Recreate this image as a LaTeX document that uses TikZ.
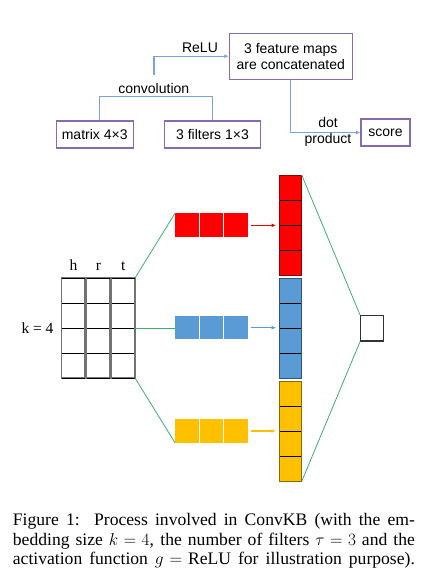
\documentclass[tikz,border=0pt]{standalone}
\usepackage{fontspec}
\setmainfont{Liberation Serif}
\newfontfamily\arialf{Liberation Sans}
\usetikzlibrary{arrows.meta}
\definecolor{boxpurple}{HTML}{8A6AAE}
\definecolor{connblue}{HTML}{78A4D8}
\definecolor{fred}{HTML}{FF0000}
\definecolor{fblue}{HTML}{5B9BD5}
\definecolor{fyellow}{HTML}{FFC000}
\definecolor{lgreen}{HTML}{3DB070}
\begin{document}
\begin{tikzpicture}[x=1pt,y=-1pt,
  procbox/.style={draw=boxpurple,line width=1.1pt,inner sep=0pt,font=\arialf\fontsize{14}{16}\selectfont,align=center},
  conn/.style={draw=connblue,line width=1.1pt},
  connarrow/.style={conn,-{Latex[length=4.5pt,width=4pt]}},
  lbl/.style={font=\arialf\fontsize{14}{16}\selectfont,inner sep=0pt},
  serlbl/.style={font=\fontsize{15.5}{18}\selectfont,inner sep=0pt},
  gline/.style={draw=lgreen,line width=0.8pt},
  cellline/.style={draw=black,line width=0.8pt},
  colarrow/.style={line width=1.4pt,-{Latex[length=4.5pt,width=4pt]}}]
\useasboundingbox (0,0) rectangle (430,578);
\fill[white] (0,0) rectangle (430,578);

% ---------- top flow chart ----------
\node[procbox,minimum width=77pt,minimum height=27pt] (mat) at (94.7,134.5) {matrix 4×3};
\node[procbox,minimum width=96.5pt,minimum height=27pt] (flt) at (212.5,134.5) {3 filters 1×3};
\node[procbox,minimum width=123pt,minimum height=45.7pt] (feat) at (290.8,56.2) {3 feature maps\\are concatenated};
\node[procbox,minimum width=49pt,minimum height=27pt] (score) at (385.5,132.5) {score};

\coordinate (cl) at (99.3,96.7);
\draw[conn] (mat.north -| cl) -- (cl) -- (cl -| flt.north) -- (flt.north);
\node[lbl] (convlbl) at (153.8,88) {convolution};

\coordinate (relu0) at (154,75);
\draw[connarrow] (relu0) |- (feat.west);
\node[lbl] (relulbl) at (200,48) {ReLU};

\draw[connarrow] (feat.south) |- (score.west);
\node[lbl] (dotlbl) at (328,122.5) {dot};
\node[lbl] (prodlbl) at (328,139.5) {product};

% ---------- input matrix h r t ----------
\foreach \x/\name in {61.7/h,86.7/r,111.7/t}{
  \fill[white] (\x,278) rectangle (\x+23.3,378);
  \foreach \yy in {303,328,353}{
    \draw[cellline] (\x,\yy) -- (\x+23.3,\yy);
  }
  \draw[draw=gray!90!black,line width=1.2pt] (\x,278) rectangle (\x+23.3,378);
  \draw[black,line width=0.6pt] (\x,278) -- (\x+23.3,278) (\x,378) -- (\x+23.3,378);
  \node[serlbl,anchor=base] (lbl\name) at (\x+11.7,270) {\name};
}
\node[serlbl] (klbl) at (37.5,328) {k = 4};

\coordinate (mtr) at (135,278);
\coordinate (mmr) at (135,328);
\coordinate (mbr) at (135,378);

% ---------- filters ----------
\foreach \col/\y in {fred/213.3,fblue/316,fyellow/419.3}{
  \foreach \i in {0,1,2}{
    \fill[\col] (175+\i*24.2,\y) rectangle (175+\i*24.2+24.2,\y+23.4);
  }
  \draw[white,line width=0.9pt] (199.2,\y) -- (199.2,\y+23.4) (223.4,\y) -- (223.4,\y+23.4);
}
\coordinate (rtl) at (175,213.3);
\coordinate (bml) at (175,328);
\coordinate (ybl) at (175,442.7);
\draw[gline] (mtr) -- (rtl);
\draw[gline] (mmr) -- (bml);
\draw[gline] (mbr) -- (ybl);

% arrows filter -> feature column
\coordinate (ra0) at (251,225.3); \coordinate (ra1) at (276,225.3);
\coordinate (ba0) at (251,327.7); \coordinate (ba1) at (276,327.7);
\coordinate (ya0) at (251,431);   \coordinate (ya1) at (276,431);
\draw[colarrow,draw=fred!90!black,fill=fred!90!black] (ra0) -- (ra1);
\draw[colarrow,draw=fblue,fill=fblue] (ba0) -- (ba1);
\draw[colarrow,draw=fyellow,fill=fyellow] (ya0) -- (ya1);

% ---------- concatenated column ----------
\foreach \col/\y in {fred/175,fblue/278,fyellow/381}{
  \fill[\col] (279,\y) rectangle (301.7,\y+100.4);
  \foreach \k in {1,2,3}{
    \draw[cellline] (279,\y+\k*25.1) -- (301.7,\y+\k*25.1);
  }
  \draw[draw=\col!55!black,line width=0.9pt] (279,\y) rectangle (301.7,\y+100.4);
}
\coordinate (ctr) at (301.7,175);
\coordinate (cbr) at (301.7,481.4);

% ---------- output ----------
\node[draw=black!80,line width=1.2pt,minimum width=22.6pt,minimum height=25.3pt,inner sep=0pt] (out) at (372,328.3) {};
\draw[gline] (ctr) -- (out.north west);
\draw[gline] (out.south west) -- (cbr);

% ---------- caption ----------
\begin{scope}[every node/.style={anchor=base west,inner sep=0pt,font=\fontsize{17.6}{20}\selectfont}]
\thickmuskip=5mu plus 1mu
\node (cap1) at (12.7,525) {\makebox[402pt][s]{Figure 1:\ \ Process involved in ConvKB (with the em-}};
\node (cap2) at (12.7,545) {\makebox[402pt][s]{bedding size $k=4$, the number of filters $\tau=3$ and the}};
\node (cap3) at (12.7,564.5) {\makebox[402pt][s]{activation function $g=\mathrm{ReLU}$ for illustration purpose).}};
\end{scope}
\end{tikzpicture}
\end{document}
